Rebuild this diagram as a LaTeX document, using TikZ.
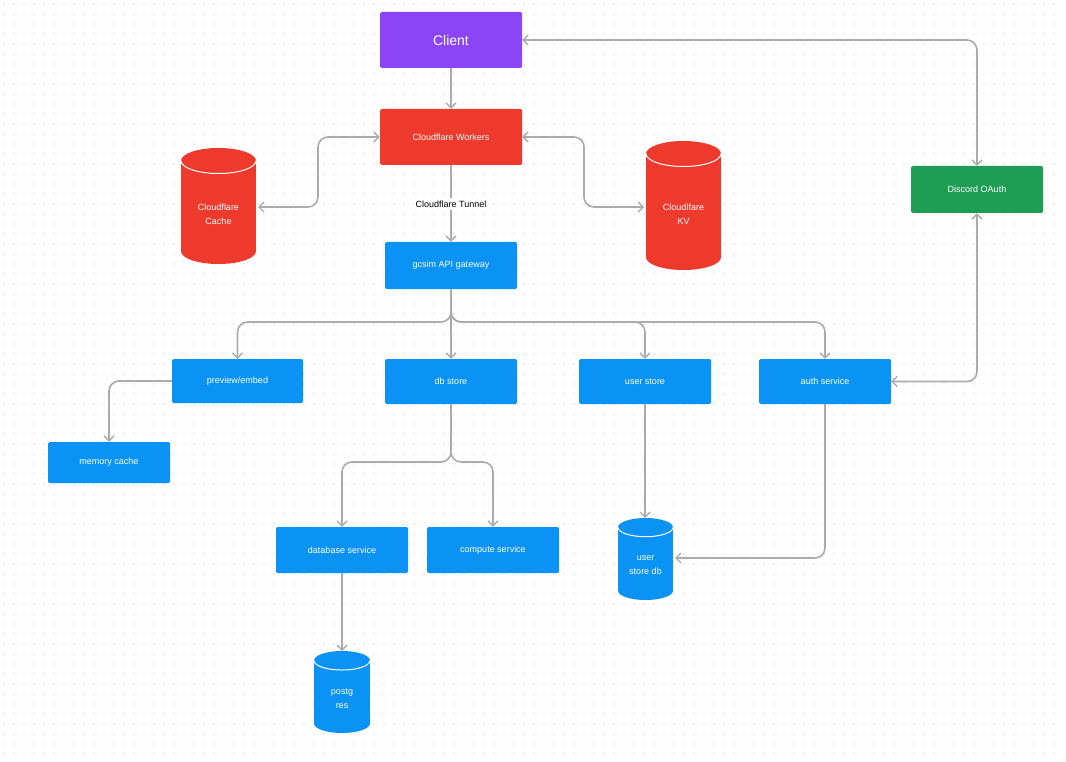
\documentclass[tikz,border=0pt]{standalone}
\usepackage{fontspec}
\setmainfont{Liberation Sans}
\usetikzlibrary{arrows.meta}
\definecolor{cpurple}{HTML}{8B45F6}
\definecolor{cred}{HTML}{EE3A2C}
\definecolor{cblue}{HTML}{0A93F5}
\definecolor{cgreen}{HTML}{1E9E55}
\definecolor{cline}{HTML}{ABABAB}
\definecolor{cdot}{HTML}{BDBDBD}
\tikzset{
  box/.style={draw=none,rounded corners=1.5pt,text=white,font=\fontsize{9}{11}\selectfont,inner sep=0pt},
  conn/.style={draw=cline,line width=1.6pt,rounded corners=10pt},
  tip/.style={-{Straight Barb[length=5pt,width=10pt,line width=1.4pt]}},
  tips/.style={{Straight Barb[length=5pt,width=10pt,line width=1.4pt]}-{Straight Barb[length=5pt,width=10pt,line width=1.4pt]}},
  cyltext/.style={text=white,font=\fontsize{9}{14}\selectfont,align=center}
}
\newcommand\boxat[7]{% name x1 y1 x2 y2 color text
  \node[box,fill=#6,minimum width=#4-#2,minimum height=#5-#3] (#1) at ({(#2+#4)/2},{(#3+#5)/2}) {#7};}
\newcommand\dbcyl[7]{% name x1 y1 x2 y2 color text
  \pgfmathsetmacro\rx{(#4-#2)/2}\pgfmathsetmacro\cx{(#2+#4)/2}\pgfmathsetmacro\ry{0.34*\rx}
  \fill[#6] (#2,#3+\ry) rectangle (#4,#5-\ry);
  \fill[#6] (\cx,#3+\ry) ellipse[x radius=\rx,y radius=\ry];
  \fill[#6] (\cx,#5-\ry) ellipse[x radius=\rx,y radius=\ry];
  \draw[white,line width=1pt] (#2,#3+\ry) arc[start angle=180,end angle=360,x radius=\rx,y radius=-\ry];
  \node[cyltext,minimum width=#4-#2,minimum height=#5-#3] (#1) at (\cx,{(#3+#5)/2+\ry/1.5}) {#7};}
\begin{document}
\begin{tikzpicture}[x=1pt,y=-1pt]
\fill[white] (0,0) rectangle (1066,762);
\useasboundingbox (0,0) rectangle (1066,762);
\foreach \j in {0,...,76}{\draw[cdot,line width=1.2pt,line cap=round,dash pattern=on 0pt off 10pt] (4,\j*10+4) -- (1064,\j*10+4);}
% boxes
\boxat{client}{380}{12}{522}{68}{cpurple}{\fontsize{14}{16}\selectfont Client}
\boxat{workers}{380}{109}{522}{165}{cred}{Cloudflare Workers}
\boxat{gateway}{385}{242}{517}{289}{cblue}{gcsim API gateway}
\boxat{discord}{911}{166}{1043}{213}{cgreen}{Discord OAuth}
\boxat{preview}{172}{359}{303}{403}{cblue}{preview/embed}
\boxat{dbstore}{385}{359}{517}{404}{cblue}{db store}
\boxat{userstore}{579}{359}{711}{404}{cblue}{user store}
\boxat{auth}{759}{359}{891}{404}{cblue}{auth service}
\boxat{memcache}{48}{442}{170}{483}{cblue}{memory cache}
\boxat{dbservice}{276}{527}{408}{573}{cblue}{database service}
\boxat{compute}{427}{527}{559}{573}{cblue}{compute service}
% cylinders
\dbcyl{cache}{181}{148}{256}{264}{cred}{Cloudflare\\Cache}
\dbcyl{kv}{646}{141}{721}{270}{cred}{Cloudlfare\\KV}
\dbcyl{userdb}{618}{518}{673}{600}{cblue}{user\\store db}
\dbcyl{postgres}{314}{651}{370}{733}{cblue}{postg\\res}
% connectors
\draw[conn,tip] (client.south) -- (workers.north);
\draw[conn,tips] (workers.west) -| (318,160) |- (258,207);
\draw[conn,tips] (workers.east) -| (584,160) |- (644,207);
\node[font=\fontsize{9}{11}\selectfont,fill=white,inner sep=2pt] (tunnel) at (451,204) {Cloudflare Tunnel};
\draw[conn] (workers.south) -- (tunnel.north);
\draw[conn,tip] (tunnel.south) -- (gateway.north);
\draw[conn,tips] (client.east) -| (discord.north);
\draw[conn,tips] (discord.south) |- (auth.east);
\draw[conn,tip] (gateway.south) |- (preview.north |- 0,322) -- (preview.north);
\draw[conn,tip] (gateway.south) -- (dbstore.north);
\draw[conn,tip] (gateway.south) |- (userstore.north |- 0,322) -- (userstore.north);
\draw[conn,tip] (gateway.south) |- (auth.north |- 0,322) -- (auth.north);
\draw[conn,tip] (preview.west) -| (memcache.north);
\draw[conn,tip] (dbstore.south) |- (dbservice.north |- 0,462) -- (dbservice.north);
\draw[conn,tip] (dbstore.south) |- (compute.north |- 0,462) -- (compute.north);
\draw[conn,tip] (userstore.south) -- (645,518);
\draw[conn,tip] (auth.south) |- (675,558);
\draw[conn,tip] (dbservice.south) -- (342,651);
\end{tikzpicture}
\end{document}
